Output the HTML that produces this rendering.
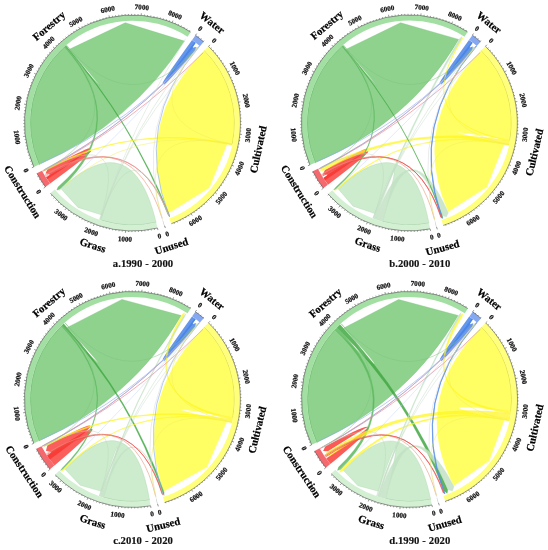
<!DOCTYPE html>
<html lang="en">
<head>
<meta charset="utf-8">
<title>Land use transfer chord diagrams</title>
<style>
html,body{margin:0;padding:0;background:#fff;}
body{width:548px;height:550px;overflow:hidden;}
svg{display:block;}
text{font-family:"Liberation Serif",serif;font-weight:bold;fill:#111;text-anchor:middle;}
.t{font-size:7.1px;fill:#111;stroke:#111;stroke-width:0.22px;}
.s{font-size:10.7px;fill:#000;stroke:#000;stroke-width:0.2px;}
.c{font-size:10.7px;fill:#111;word-spacing:0.3px;stroke:#111;stroke-width:0.15px;}
</style>
</head>
<body>
<svg width="548" height="550" viewBox="0 0 548 550">
<rect width="548" height="550" fill="#fff"/>
<g>
<path d="M156.12 222.37A102.15 102.15 0 0 1 101.22 220.26L101.99 215.09L77.93 207.43L61.05 188.66Q132.45 123 156.12 222.37 Z" fill="#CDEBCD" fill-opacity="1" stroke="#ABD5AB" stroke-width="0.35" stroke-opacity="1" stroke-linejoin="round"/><path d="M156.1 222.27A102.05 102.05 0 0 1 101.25 220.16" fill="none" stroke="#ABD5AB" stroke-width="0.7"/>
<path d="M204.43 50.52A102.15 102.15 0 0 1 232.44 143.89L227.22 143.66L209.27 187.8L168.79 212.94Q132.45 123 204.43 50.52 Z" fill="#FFFF64" fill-opacity="1" stroke="#FFFF64" stroke-width="0.35" stroke-opacity="1" stroke-linejoin="round"/><path d="M204.36 50.59A102.05 102.05 0 0 1 232.34 143.87" fill="none" stroke="#D6D640" stroke-width="0.7"/>
<path d="M39.13 164.55A102.15 102.15 0 0 1 64.36 46.85Q132.45 123 69.32 49.35L125.26 22.76L184.43 41.1Q132.45 123 39.13 164.55 Z" fill="#8ED28E" fill-opacity="1" stroke="#74C074" stroke-width="0.35" stroke-opacity="1" stroke-linejoin="round"/><path d="M39.22 164.51A102.05 102.05 0 0 1 64.43 46.92" fill="none" stroke="#74C074" stroke-width="0.7"/>
<path d="M50.12 183.47A102.15 102.15 0 0 1 46.11 177.58L49.91 175.08A97.6 97.6 0 0 1 49.29 174.08Q132.45 123 50.12 183.47 Z" fill="#FA322D" fill-opacity="0.78"/>
<path d="M47.23 179.31A102.15 102.15 0 0 1 46.11 177.58L50.53 174.19L45.5 173.6L47.48 168.95Q132.45 123 47.23 179.31 Z" fill="#FA322D" fill-opacity="0.78"/>
<path d="M192.06 40.05A102.15 102.15 0 0 1 195.76 42.84L192.63 46.93A97 97 0 0 1 193.26 47.43Q132.45 123 192.06 40.05 Z" fill="#4682E7" fill-opacity="0.84"/>
<path d="M194.74 42.04A102.15 102.15 0 0 1 195.76 42.84L192.34 47.97L195.95 46.65L195.31 50.44Q132.45 123 194.74 42.04 Z" fill="#4682E7" fill-opacity="0.84"/>
<path d="M65.1 46.2A102.15 102.15 0 0 1 65.84 45.56Q132.45 123 169 213.93L169.55 216.94L167.89 214.37Q132.45 123 65.1 46.2 Z" fill="#43A843" fill-opacity="0.85" stroke="#43A843" stroke-width="0.45" stroke-opacity="0.85" stroke-linejoin="round"/>
<path d="M64.36 46.85A102.15 102.15 0 0 1 65.1 46.2Q132.45 123 60.08 189.08L56.86 189.99L58.15 186.91Q132.45 123 64.36 46.85 Z" fill="#5CB85C" fill-opacity="0.85" stroke="#5CB85C" stroke-width="0.45" stroke-opacity="0.85" stroke-linejoin="round"/>
<path d="M232.44 143.89A102.15 102.15 0 0 1 232.26 144.76Q132.45 123 46.49 170.06L43.56 170.96L45.92 169.01Q132.45 123 232.44 143.89 Z" fill="#FFF61E" fill-opacity="0.72" stroke="#FFF61E" stroke-width="0.45" stroke-opacity="0.72" stroke-linejoin="round"/>
<path d="M232.07 144.9Q132.45 123 58.87 190.42" fill="none" stroke="#F3EE5A" stroke-width="0.62" stroke-opacity="0.8"/>
<path d="M42.39 170.89Q132.45 123 197.92 47.68" fill="none" stroke="#EC7B82" stroke-width="0.67" stroke-opacity="0.9"/>
<path d="M42.73 171.51Q132.45 123 203.27 52.68" fill="none" stroke="#EC7B82" stroke-width="0.67" stroke-opacity="0.9"/>
<path d="M45.76 176.75Q132.45 123 169.03 215.86" fill="none" stroke="#EC7B82" stroke-width="0.67" stroke-opacity="0.9"/>
<path d="M45.2 175.84Q132.45 123 169.51 215.66" fill="none" stroke="#EC7B82" stroke-width="0.67" stroke-opacity="0.9"/>
<path d="M44.75 175.08Q132.45 123 162.13 218.29" fill="none" stroke="#E9967A" stroke-width="0.67" stroke-opacity="0.9"/>
<path d="M199.37 46.02Q132.45 123 44.21 169.62" fill="none" stroke="#8CAEF0" stroke-width="0.67" stroke-opacity="0.9"/>
<path d="M199.5 46.14Q132.45 123 41.07 163.11" fill="none" stroke="#8CAEF0" stroke-width="0.67" stroke-opacity="0.9"/>
<path d="M199.64 46.25Q132.45 123 169.19 215.79" fill="none" stroke="#8CAEF0" stroke-width="0.72" stroke-opacity="0.9"/>
<path d="M199.64 46.25Q132.45 123 58.87 190.42" fill="none" stroke="#B9CDF5" stroke-width="0.52" stroke-opacity="0.8"/>
<path d="M100.59 219.9Q132.45 123 197.92 47.68" fill="none" stroke="#BFD9C2" stroke-width="0.5700000000000001" stroke-opacity="0.8"/>
<path d="M99.75 219.62Q132.45 123 203.02 52.43" fill="none" stroke="#C9DCCB" stroke-width="0.5700000000000001" stroke-opacity="0.8"/>
<path d="M100.08 219.73Q132.45 123 185.63 38.55" fill="none" stroke="#C9DCCB" stroke-width="0.5700000000000001" stroke-opacity="0.8"/>
<path d="M162.78 220.39Q132.45 123 198.19 47.91" fill="none" stroke="#CFCFCF" stroke-width="0.52" stroke-opacity="0.8"/>
<path d="M66.34 45.32Q132.45 123 197.13 47" fill="none" stroke="#7CC47C" stroke-width="0.52" stroke-opacity="0.9"/>
<path d="M66.61 45.09Q132.45 123 44.5 170.16" fill="none" stroke="#7CC47C" stroke-width="0.52" stroke-opacity="0.9"/>
<path d="M232.22 144.21Q132.45 123 197.66 47.45" fill="none" stroke="#F1EE55" stroke-width="0.52" stroke-opacity="0.9"/>
<path d="M232.15 144.56Q132.45 123 162.13 218.29" fill="none" stroke="#F1EE55" stroke-width="0.52" stroke-opacity="0.9"/>
<path d="M100.25 219.79Q132.45 123 168.86 215.92" fill="none" stroke="#B9DDBB" stroke-width="0.52" stroke-opacity="0.9"/>
<path d="M99.58 219.56Q132.45 123 44.58 170.31" fill="none" stroke="#B9DDBB" stroke-width="0.52" stroke-opacity="0.9"/>
<path d="M33.79 166.93A108 108 0 0 1 190.64 32.02L187.57 36.82A102.3 102.3 0 0 0 38.99 164.61Z" fill="#A3DFA3"/>
<path d="M195.47 35.29A108 108 0 0 1 203.73 41.86L199.97 46.15A102.3 102.3 0 0 0 192.15 39.92Z" fill="#86A8F0"/>
<path d="M208.55 46.37A108 108 0 0 1 171.33 223.76L169.28 218.44A102.3 102.3 0 0 0 204.53 50.41Z" fill="#FFFF7C"/>
<path d="M164.75 226.06A108 108 0 0 1 164.21 226.23L162.53 220.78A102.3 102.3 0 0 0 163.04 220.62Z" fill="#C8C8C8"/>
<path d="M157.48 228.06A108 108 0 0 1 50.45 193.28L54.78 189.57A102.3 102.3 0 0 0 156.16 222.51Z" fill="#D3F0D3"/>
<path d="M45.41 186.94A108 108 0 0 1 36.92 173.37L41.96 170.71A102.3 102.3 0 0 0 50 183.56Z" fill="#F4696E"/>
<path d="M33.79 166.93A108 108 0 0 1 190.64 32.02M33.79 166.93L31.87 167.78M32.53 163.99L31.51 164.41M31.36 161.02L30.33 161.4M30.28 158.01L29.24 158.37M29.29 154.97L28.24 155.3M28.39 151.91L27.33 152.2M27.58 148.82L26.51 149.08M26.86 145.71L25.79 145.94M26.24 142.57L25.16 142.77M25.71 139.42L24.62 139.59M25.27 136.26L23.18 136.52M24.92 133.08L23.83 133.19M24.67 129.9L23.57 129.97M24.51 126.71L23.41 126.75M24.45 123.51L23.35 123.52M24.48 120.32L23.38 120.29M24.61 117.13L23.51 117.07M24.83 113.94L23.73 113.85M25.15 110.76L24.05 110.64M25.55 107.59L24.47 107.44M26.06 104.44L23.99 104.08M26.65 101.3L25.57 101.08M27.34 98.18L26.27 97.93M28.12 95.08L27.06 94.8M28.99 92.01L27.94 91.69M29.95 88.96L28.91 88.62M31 85.95L29.97 85.57M32.15 82.96L31.12 82.56M33.37 80.01L32.36 79.58M34.69 77.1L33.69 76.64M36.09 74.23L34.21 73.28M37.57 71.4L36.61 70.88M39.14 68.62L38.19 68.07M40.79 65.88L39.86 65.3M42.52 63.2L41.6 62.59M44.33 60.56L43.43 59.93M46.21 57.98L45.33 57.32M48.17 55.46L47.31 54.77M50.21 53L49.37 52.29M52.31 50.6L51.5 49.86M54.49 48.26L52.97 46.81M56.73 45.99L55.96 45.2M59.04 43.78L58.3 42.97M61.42 41.64L60.7 40.82M63.86 39.58L63.16 38.73M66.35 37.59L65.68 36.72M68.91 35.67L68.26 34.78M71.52 33.83L70.9 32.92M74.18 32.07L73.59 31.14M76.9 30.38L76.33 29.44M79.66 28.78L78.64 26.95M82.47 27.26L81.96 26.28M85.33 25.82L84.85 24.83M88.22 24.47L87.77 23.47M91.15 23.21L90.73 22.19M94.12 22.03L93.73 21M97.13 20.94L96.77 19.9M100.16 19.94L99.83 18.89M103.22 19.03L102.92 17.97M106.31 18.21L106.04 17.14M109.42 17.48L108.97 15.43M112.55 16.85L112.35 15.77M115.7 16.31L115.53 15.22M118.86 15.86L118.72 14.77M122.04 15.5L121.93 14.41M125.22 15.24L125.15 14.14M128.41 15.08L128.37 13.98M131.6 15L131.6 13.9M134.8 15.03L134.82 13.93M137.99 15.14L138.05 14.04M141.18 15.35L141.35 13.26M144.36 15.66L144.48 14.57M147.53 16.06L147.68 14.97M150.68 16.55L150.87 15.47M153.82 17.14L154.04 16.06M156.95 17.81L157.2 16.74M160.05 18.59L160.33 17.52M163.12 19.45L163.44 18.39M166.17 20.4L166.52 19.35M169.19 21.44L169.57 20.41M172.18 22.57L172.95 20.62M175.13 23.79L175.57 22.78M178.05 25.1L178.51 24.1M180.92 26.49L181.42 25.51M183.76 27.96L184.28 27M186.54 29.52L187.1 28.57M189.29 31.16L189.86 30.23" fill="none" stroke="#444" stroke-width="0.55"/>
<text class="t" transform="translate(26.3 170.26) rotate(66)" y="2.41">0</text>
<text class="t" transform="translate(17.13 137.27) rotate(82.95)" y="2.41">1000</text>
<text class="t" transform="translate(17.98 103.03) rotate(-80.1)" y="2.41">2000</text>
<text class="t" transform="translate(28.77 70.53) rotate(-63.16)" y="2.41">3000</text>
<text class="t" transform="translate(48.57 42.58) rotate(-46.21)" y="2.41">4000</text>
<text class="t" transform="translate(75.65 21.63) rotate(-29.26)" y="2.41">5000</text>
<text class="t" transform="translate(107.67 9.47) rotate(-12.31)" y="2.41">6000</text>
<text class="t" transform="translate(141.84 7.18) rotate(4.64)" y="2.41">7000</text>
<text class="t" transform="translate(175.2 14.95) rotate(21.58)" y="2.41">8000</text>
<path d="M195.47 35.29A108 108 0 0 1 203.73 41.86M195.47 35.29L196.7 33.59M198.12 37.26L198.79 36.39M200.71 39.31L201.4 38.45M203.23 41.43L203.95 40.6" fill="none" stroke="#444" stroke-width="0.55"/>
<text class="t" transform="translate(200.26 28.64) rotate(35.7)" y="2.41">0</text>
<path d="M208.55 46.37A108 108 0 0 1 171.33 223.76M208.55 46.37L210.03 44.88M210.8 48.67L211.6 47.91M212.98 51.03L213.8 50.3M215.08 53.46L215.92 52.75M217.11 55.95L217.98 55.27M219.07 58.5L219.96 57.84M220.95 61.1L221.86 60.47M222.76 63.77L223.68 63.16M224.48 66.48L225.42 65.9M226.12 69.24L227.08 68.7M227.68 72.06L229.53 71.07M229.15 74.91L230.14 74.42M230.54 77.81L231.54 77.35M231.84 80.75L232.86 80.32M233.06 83.73L234.08 83.33M234.18 86.74L235.22 86.37M235.22 89.78L236.26 89.45M236.16 92.86L237.21 92.55M237.01 95.96L238.07 95.68M237.77 99.08L238.84 98.84M238.43 102.23L240.49 101.82M239 105.39L240.09 105.21M239.48 108.57L240.57 108.42M239.86 111.76L240.96 111.65M240.15 114.96L241.25 114.88M240.34 118.17L241.44 118.12M240.44 121.39L241.54 121.37M240.44 124.6L241.54 124.62M240.34 127.81L241.44 127.86M240.15 131.02L241.25 131.1M239.87 134.23L241.95 134.44M239.48 137.42L240.57 137.56M239.01 140.6L240.09 140.78M238.44 143.76L239.52 143.97M237.77 146.91L238.84 147.15M237.01 150.03L238.08 150.3M236.16 153.13L237.22 153.44M235.22 156.2L236.27 156.54M234.19 159.25L235.22 159.62M233.06 162.26L234.09 162.66M231.85 165.24L233.78 166.06M230.55 168.18L231.55 168.64M229.16 171.08L230.14 171.56M227.69 173.93L228.66 174.45M226.13 176.74L227.08 177.29M224.49 179.51L225.42 180.08M222.76 182.22L223.68 182.83M220.96 184.88L221.86 185.51M219.08 187.49L219.96 188.15M217.12 190.04L217.99 190.72M215.09 192.53L216.7 193.88M212.98 194.96L213.8 195.69M210.81 197.33L211.6 198.08M208.56 199.62L209.33 200.4M206.25 201.86L207 202.66M203.87 204.02L204.59 204.84M201.42 206.11L202.13 206.95M198.92 208.12L199.6 208.99M196.36 210.06L197.01 210.95M193.74 211.93L194.36 212.83M191.06 213.71L192.2 215.48M188.34 215.42L188.91 216.36M185.56 217.04L186.1 218M182.74 218.58L183.25 219.55M179.87 220.03L180.36 221.02M176.96 221.4L177.42 222.4M174.01 222.68L174.44 223.7" fill="none" stroke="#444" stroke-width="0.55"/>
<text class="t" transform="translate(214.33 40.55) rotate(44.8)" y="2.41">0</text>
<text class="t" transform="translate(234.91 68.19) rotate(61.86)" y="2.41">1000</text>
<text class="t" transform="translate(246.48 100.65) rotate(78.91)" y="2.41">2000</text>
<text class="t" transform="translate(248.02 135.08) rotate(-84.03)" y="2.41">3000</text>
<text class="t" transform="translate(239.4 168.44) rotate(-66.98)" y="2.41">4000</text>
<text class="t" transform="translate(221.36 197.81) rotate(-49.92)" y="2.41">5000</text>
<text class="t" transform="translate(195.51 220.6) rotate(-32.87)" y="2.41">6000</text>
<path d="M164.75 226.06A108 108 0 0 1 164.21 226.23M164.75 226.06L165.37 228.06" fill="none" stroke="#444" stroke-width="0.55"/>
<text class="t" transform="translate(167.2 233.88) rotate(-17.4)" y="2.41">0</text>
<path d="M157.48 228.06A108 108 0 0 1 50.45 193.28M157.48 228.06L157.97 230.1M154.34 228.76L154.56 229.84M151.17 229.36L151.37 230.45M148 229.88L148.15 230.96M144.8 230.29L144.93 231.38M141.6 230.61L141.69 231.71M138.39 230.84L138.45 231.93M135.17 230.97L135.2 232.07M131.95 231L131.95 232.1M128.74 230.94L128.7 232.04M125.52 230.78L125.38 232.87M122.31 230.52L122.21 231.62M119.11 230.17L118.97 231.26M115.92 229.73L115.75 230.81M112.75 229.19L112.55 230.27M109.59 228.55L109.36 229.63M106.46 227.83L106.19 228.89M103.34 227L103.05 228.06M100.26 226.09L99.93 227.14M97.2 225.09L96.84 226.12M94.17 223.99L93.43 225.95M91.18 222.8L90.76 223.82M88.22 221.53L87.77 222.53M85.31 220.17L84.83 221.16M82.43 218.72L81.92 219.69M79.6 217.19L79.06 218.14M76.82 215.57L76.25 216.51M74.08 213.87L73.49 214.79M71.4 212.09L70.78 213M68.77 210.23L68.12 211.12M66.2 208.29L64.91 209.95M63.69 206.28L62.99 207.13M61.24 204.19L60.51 205.02M58.85 202.04L58.1 202.84M56.52 199.81L55.75 200.59M54.27 197.51L53.47 198.27M52.08 195.15L51.26 195.88" fill="none" stroke="#444" stroke-width="0.55"/>
<text class="t" transform="translate(159.38 236.04) rotate(-13.4)" y="2.41">0</text>
<text class="t" transform="translate(124.99 238.96) rotate(3.68)" y="2.41">1000</text>
<text class="t" transform="translate(91.27 231.66) rotate(20.76)" y="2.41">2000</text>
<text class="t" transform="translate(61.17 214.77) rotate(37.84)" y="2.41">3000</text>
<path d="M45.41 186.94A108 108 0 0 1 36.92 173.37M45.41 186.94L43.72 188.18M43.54 184.32L42.64 184.94M41.76 181.64L40.83 182.24M40.05 178.91L39.11 179.48M38.43 176.14L37.47 176.68" fill="none" stroke="#444" stroke-width="0.55"/>
<text class="t" transform="translate(38.8 191.79) rotate(53.7)" y="2.41">0</text>
<text class="s" transform="translate(48.79 25.73) rotate(-40.7)" y="3.74">Forestry</text>
<text class="s" transform="translate(212.32 22.59) rotate(38.5)" y="3.74">Water</text>
<text class="s" transform="translate(258.02 149.35) rotate(-78.15)" y="3.74">Cultivated</text>
<text class="s" transform="translate(171.35 246) rotate(-17.55)" y="3.74">Unused</text>
<text class="s" transform="translate(92.8 245.02) rotate(18)" y="3.74">Grass</text>
<text class="s" transform="translate(22.77 191.67) rotate(57.95)" y="3.74">Construction</text>
<text class="c" x="143" y="266.9">a.1990 - 2000</text>
</g>
<g>
<path d="M429.02 223.14A102.15 102.15 0 0 1 382.57 221.48Q409.35 122.9 374.9 213.58L353.08 206.17L338.06 188.68Q409.35 122.9 429.02 223.14 Z" fill="#CDEBCD" fill-opacity="1" stroke="#ABD5AB" stroke-width="0.35" stroke-opacity="1" stroke-linejoin="round"/><path d="M429 223.04A102.05 102.05 0 0 1 382.59 221.38" fill="none" stroke="#ABD5AB" stroke-width="0.7"/>
<path d="M481.33 50.42A102.15 102.15 0 0 1 510.04 140.11Q409.35 122.9 503.98 144.23L486.84 186.89L448.18 211.79Q409.35 122.9 481.33 50.42 Z" fill="#FFFF64" fill-opacity="1" stroke="#FFFF64" stroke-width="0.35" stroke-opacity="1" stroke-linejoin="round"/><path d="M481.26 50.49A102.05 102.05 0 0 1 509.94 140.09" fill="none" stroke="#D6D640" stroke-width="0.7"/>
<path d="M315.25 162.65A102.15 102.15 0 0 1 341.8 46.28Q409.35 122.9 346.22 49.25L400.59 22.78L458.73 39.41Q409.35 122.9 315.25 162.65 Z" fill="#8ED28E" fill-opacity="1" stroke="#74C074" stroke-width="0.35" stroke-opacity="1" stroke-linejoin="round"/><path d="M315.34 162.61A102.05 102.05 0 0 1 341.86 46.35" fill="none" stroke="#74C074" stroke-width="0.7"/>
<path d="M327.98 184.66A102.15 102.15 0 0 1 323.39 178.09L327.17 175.56A97.6 97.6 0 0 1 326.89 175.11Q409.35 122.9 327.98 184.66 Z" fill="#FA322D" fill-opacity="0.78"/>
<path d="M324.95 180.44A102.15 102.15 0 0 1 323.39 178.09L327.79 174.66L322.89 174.34L324.94 169.88Q409.35 122.9 324.95 180.44 Z" fill="#FA322D" fill-opacity="0.78"/>
<path d="M468.96 39.95A102.15 102.15 0 0 1 472.66 42.74L469.53 46.83A97 97 0 0 1 470.16 47.33Q409.35 122.9 468.96 39.95 Z" fill="#4682E7" fill-opacity="0.84"/>
<path d="M471.64 41.94A102.15 102.15 0 0 1 472.66 42.74L469.24 47.87L472.85 46.55L472.21 50.34Q409.35 122.9 471.64 41.94 Z" fill="#4682E7" fill-opacity="0.84"/>
<path d="M382.57 221.48A102.15 102.15 0 0 1 375.42 219.25Q409.35 122.9 448.27 212.84L446.28 216.9L442.06 215.28Q409.35 122.9 382.57 221.48 Z" fill="#C2E2C4" fill-opacity="0.85" stroke="#C2E2C4" stroke-width="0.45" stroke-opacity="0.85" stroke-linejoin="round"/>
<path d="M375.42 219.25A102.15 102.15 0 0 1 373.41 218.52Q409.35 122.9 459.53 38.72L461.9 36.65L461.14 39.7Q409.35 122.9 375.42 219.25 Z" fill="#C2E2C4" fill-opacity="0.85" stroke="#C2E2C4" stroke-width="0.45" stroke-opacity="0.85" stroke-linejoin="round"/>
<path d="M509.92 140.81A102.15 102.15 0 0 1 509.23 144.31Q409.35 122.9 323.64 170.41L320.13 170.24L321.95 167.24Q409.35 122.9 509.92 140.81 Z" fill="#FFF61E" fill-opacity="0.72" stroke="#FFF61E" stroke-width="0.45" stroke-opacity="0.72" stroke-linejoin="round"/>
<path d="M509.23 144.31A102.15 102.15 0 0 1 509.04 145.18Q409.35 122.9 337.21 189.23L334.65 190.87L336.52 188.47Q409.35 122.9 509.23 144.31 Z" fill="#FFF61E" fill-opacity="0.72" stroke="#FFF61E" stroke-width="0.45" stroke-opacity="0.72" stroke-linejoin="round"/>
<path d="M510.04 140.11A102.15 102.15 0 0 1 509.92 140.81Q409.35 122.9 461.28 39.79L463.17 37.43L461.86 40.16Q409.35 122.9 510.04 140.11 Z" fill="#FFF61E" fill-opacity="0.72" stroke="#FFF61E" stroke-width="0.45" stroke-opacity="0.72" stroke-linejoin="round"/>
<path d="M342.27 45.86A102.15 102.15 0 0 1 342.74 45.46Q409.35 122.9 442.06 215.28L442.77 218.21L441.5 215.48Q409.35 122.9 342.27 45.86 Z" fill="#43A843" fill-opacity="0.85" stroke="#43A843" stroke-width="0.45" stroke-opacity="0.85" stroke-linejoin="round"/>
<path d="M341.8 46.28A102.15 102.15 0 0 1 342.27 45.86Q409.35 122.9 336.41 188.35L333.76 189.89L335.61 187.45Q409.35 122.9 341.8 46.28 Z" fill="#5CB85C" fill-opacity="0.85" stroke="#5CB85C" stroke-width="0.45" stroke-opacity="0.85" stroke-linejoin="round"/>
<path d="M476.3 45.75A102.15 102.15 0 0 1 476.7 46.1Q409.35 122.9 441.5 215.48L442.19 218.41L440.93 215.67Q409.35 122.9 476.3 45.75 Z" fill="#5B8FE8" fill-opacity="0.85" stroke="#5B8FE8" stroke-width="0.8" stroke-opacity="0.85" stroke-linejoin="round"/>
<path d="M322.38 176.19Q409.35 122.9 441.35 217.43" fill="none" stroke="#EE4B4B" stroke-width="0.82" stroke-opacity="0.9"/>
<path d="M321.83 175.28Q409.35 122.9 441.02 217.54" fill="none" stroke="#EE4B4B" stroke-width="0.72" stroke-opacity="0.9"/>
<path d="M321.37 174.52Q409.35 122.9 434.51 219.48" fill="none" stroke="#E9967A" stroke-width="0.67" stroke-opacity="0.9"/>
<path d="M318.39 169.05Q409.35 122.9 474.82 47.58" fill="none" stroke="#EC7B82" stroke-width="0.67" stroke-opacity="0.9"/>
<path d="M318.55 169.37Q409.35 122.9 480.17 52.58" fill="none" stroke="#EC7B82" stroke-width="0.67" stroke-opacity="0.9"/>
<path d="M476.27 45.92Q409.35 122.9 320.27 167.9" fill="none" stroke="#8CAEF0" stroke-width="0.67" stroke-opacity="0.9"/>
<path d="M476.4 46.04Q409.35 122.9 317.21 161.25" fill="none" stroke="#8CAEF0" stroke-width="0.67" stroke-opacity="0.9"/>
<path d="M476.54 46.15Q409.35 122.9 335.18 189.68" fill="none" stroke="#B9CDF5" stroke-width="0.52" stroke-opacity="0.8"/>
<path d="M373.3 218.32Q409.35 122.9 474.82 47.58" fill="none" stroke="#BFD9C2" stroke-width="0.5700000000000001" stroke-opacity="0.8"/>
<path d="M373.13 218.25Q409.35 122.9 479.92 52.33" fill="none" stroke="#C9DCCB" stroke-width="0.5700000000000001" stroke-opacity="0.8"/>
<path d="M435.06 221.61Q409.35 122.9 475.09 47.81" fill="none" stroke="#CFCFCF" stroke-width="0.52" stroke-opacity="0.8"/>
<path d="M343.24 45.22Q409.35 122.9 474.03 46.9" fill="none" stroke="#7CC47C" stroke-width="0.52" stroke-opacity="0.9"/>
<path d="M343.51 44.99Q409.35 122.9 320.59 168.52" fill="none" stroke="#7CC47C" stroke-width="0.52" stroke-opacity="0.9"/>
<path d="M508.97 144.8Q409.35 122.9 474.56 47.35" fill="none" stroke="#F1EE55" stroke-width="0.52" stroke-opacity="0.9"/>
<path d="M508.89 145.15Q409.35 122.9 434.51 219.48" fill="none" stroke="#F1EE55" stroke-width="0.52" stroke-opacity="0.9"/>
<path d="M372.96 218.19Q409.35 122.9 320.51 168.36" fill="none" stroke="#B9DDBB" stroke-width="0.52" stroke-opacity="0.9"/>
<path d="M309.86 164.93A108 108 0 0 1 467.54 31.92L464.47 36.72A102.3 102.3 0 0 0 315.11 162.71Z" fill="#A3DFA3"/>
<path d="M472.37 35.19A108 108 0 0 1 480.63 41.76L476.87 46.05A102.3 102.3 0 0 0 469.05 39.82Z" fill="#86A8F0"/>
<path d="M485.45 46.27A108 108 0 0 1 443.26 225.44L441.47 220.03A102.3 102.3 0 0 0 481.43 50.31Z" fill="#FFFF7C"/>
<path d="M436.76 227.36A108 108 0 0 1 436.21 227.51L434.79 221.99A102.3 102.3 0 0 0 435.31 221.85Z" fill="#C8C8C8"/>
<path d="M430.14 228.88A108 108 0 0 1 327.97 193.9L332.26 190.15A102.3 102.3 0 0 0 429.04 223.29Z" fill="#D3F0D3"/>
<path d="M323.32 188.2A108 108 0 0 1 312.82 171.34L317.92 168.79A102.3 102.3 0 0 0 327.86 184.75Z" fill="#F4696E"/>
<path d="M309.86 164.93A108 108 0 0 1 467.54 31.92M309.86 164.93L307.93 165.74M308.66 161.96L307.63 162.35M307.54 158.95L306.51 159.32M306.52 155.92L305.47 156.25M305.59 152.85L304.53 153.16M304.74 149.76L303.68 150.03M303.99 146.64L302.92 146.89M303.33 143.51L302.25 143.72M302.77 140.35L301.68 140.53M302.3 137.18L301.21 137.33M301.92 134L299.83 134.22M301.64 130.81L300.54 130.89M301.45 127.61L300.35 127.66M301.36 124.41L300.26 124.42M301.36 121.2L300.26 121.19M301.46 118L300.36 117.95M301.65 114.8L300.56 114.72M301.94 111.61L300.85 111.5M302.32 108.43L301.23 108.28M302.8 105.26L301.71 105.08M303.37 102.11L301.31 101.7M304.03 98.97L302.96 98.73M304.79 95.86L303.73 95.58M305.64 92.77L304.58 92.46M306.58 89.71L305.53 89.37M307.61 86.67L306.57 86.3M308.73 83.67L307.7 83.27M309.94 80.7L308.92 80.27M311.23 77.77L310.23 77.31M312.61 74.88L311.63 74.39M314.08 72.03L312.23 71.04M315.63 69.23L314.68 68.68M317.26 66.47L316.33 65.9M318.98 63.76L318.06 63.16M320.77 61.11L319.87 60.48M322.65 58.51L321.76 57.85M324.59 55.96L323.73 55.28M326.62 53.48L325.77 52.77M328.71 51.06L327.89 50.32M330.88 48.69L330.08 47.94M333.12 46.4L331.63 44.91M335.42 44.17L334.67 43.37M337.79 42.01L337.06 41.19M340.22 39.93L339.51 39.08M342.71 37.91L342.03 37.05M345.26 35.97L344.61 35.09M347.87 34.11L347.24 33.2M350.53 32.32L349.93 31.4M353.24 30.62L352.67 29.68M356 28.99L355.46 28.04M358.81 27.45L357.83 25.6M361.67 26L361.18 25.01M364.56 24.62L364.11 23.62M367.5 23.34L367.07 22.32M370.47 22.14L370.07 21.11M373.48 21.03L373.11 19.99M376.51 20.01L376.18 18.96M379.58 19.08L379.28 18.03M382.67 18.25L382.4 17.18M385.79 17.5L385.55 16.43M388.93 16.85L388.53 14.79M392.08 16.29L391.91 15.2M395.25 15.82L395.11 14.73M398.44 15.45L398.32 14.36M401.63 15.18L401.55 14.08M404.83 14.99L404.78 13.9M408.03 14.91L408.02 13.81M411.23 14.92L411.25 13.82M414.44 15.02L414.49 13.92M417.64 15.22L417.72 14.12M420.83 15.51L421.05 13.42M424.01 15.9L424.16 14.81M427.18 16.38L427.36 15.3M430.33 16.96L430.54 15.88M433.46 17.63L433.71 16.55M436.57 18.39L436.85 17.32M439.66 19.24L439.97 18.19M442.72 20.19L443.06 19.14M445.76 21.22L446.13 20.19M448.76 22.35L449.16 21.32M451.72 23.56L452.55 21.63M454.65 24.86L455.11 23.86M457.54 26.25L458.03 25.26M460.39 27.72L460.91 26.75M463.19 29.28L463.74 28.32M465.94 30.91L466.52 29.98" fill="none" stroke="#444" stroke-width="0.55"/>
<text class="t" transform="translate(302.31 168.12) rotate(67.1)" y="2.41">0</text>
<text class="t" transform="translate(293.77 134.84) rotate(84.1)" y="2.41">1000</text>
<text class="t" transform="translate(295.32 100.53) rotate(-78.9)" y="2.41">2000</text>
<text class="t" transform="translate(306.85 68.17) rotate(-61.9)" y="2.41">3000</text>
<text class="t" transform="translate(327.33 40.59) rotate(-44.9)" y="2.41">4000</text>
<text class="t" transform="translate(354.98 20.21) rotate(-27.9)" y="2.41">5000</text>
<text class="t" transform="translate(387.38 8.8) rotate(-10.9)" y="2.41">6000</text>
<text class="t" transform="translate(421.7 7.36) rotate(6.1)" y="2.41">7000</text>
<text class="t" transform="translate(454.94 16.02) rotate(23.1)" y="2.41">8000</text>
<path d="M472.37 35.19A108 108 0 0 1 480.63 41.76M472.37 35.19L473.6 33.49M475.02 37.16L475.69 36.29M477.61 39.21L478.3 38.35M480.13 41.33L480.85 40.5" fill="none" stroke="#444" stroke-width="0.55"/>
<text class="t" transform="translate(477.16 28.54) rotate(35.7)" y="2.41">0</text>
<path d="M485.45 46.27A108 108 0 0 1 443.26 225.44M485.45 46.27L486.93 44.78M487.69 48.56L488.49 47.8M489.86 50.91L490.68 50.18M491.96 53.33L492.8 52.63M493.99 55.82L494.85 55.13M495.94 58.36L496.82 57.7M497.82 60.95L498.72 60.32M499.62 63.61L500.54 63M501.34 66.31L502.27 65.73M502.97 69.06L503.93 68.51M504.53 71.86L506.38 70.87M506 74.71L506.99 74.22M507.39 77.6L508.39 77.14M508.69 80.53L509.7 80.1M509.9 83.49L510.93 83.09M511.03 86.49L512.06 86.12M512.06 89.53L513.11 89.19M513.01 92.59L514.06 92.28M513.86 95.68L514.93 95.4M514.62 98.79L515.7 98.54M515.29 101.92L517.35 101.51M515.87 105.07L516.95 104.89M516.35 108.24L517.44 108.09M516.74 111.42L517.83 111.31M517.03 114.61L518.13 114.53M517.23 117.81L518.33 117.76M517.33 121.02L518.43 121M517.34 124.22L518.44 124.23M517.26 127.42L518.35 127.47M517.07 130.62L518.17 130.7M516.8 133.81L518.89 134.03M516.43 137L517.52 137.14M515.96 140.17L517.05 140.34M515.4 143.32L516.48 143.53M514.75 146.46L515.82 146.7M514 149.58L515.07 149.85M513.17 152.67L514.22 152.97M512.24 155.74L513.29 156.07M511.22 158.77L512.26 159.14M510.11 161.78L511.14 162.18M508.91 164.75L510.85 165.57M507.63 167.69L508.63 168.14M506.25 170.58L507.24 171.07M504.8 173.44L505.77 173.95M503.26 176.25L504.21 176.79M501.63 179.01L502.57 179.58M499.93 181.72L500.85 182.32M498.14 184.38L499.05 185.01M496.28 186.99L497.16 187.64M494.34 189.54L495.2 190.22M492.32 192.03L493.94 193.38M490.24 194.46L491.06 195.19M488.08 196.83L488.88 197.58M485.85 199.13L486.63 199.91M483.56 201.37L484.31 202.17M481.19 203.54L481.93 204.36M478.77 205.63L479.48 206.48M476.29 207.66L476.97 208.52M473.74 209.6L474.4 210.49M471.14 211.48L471.77 212.38M468.49 213.27L469.64 215.03M465.78 214.99L466.35 215.92M463.02 216.62L463.57 217.57M460.22 218.17L460.74 219.14M457.37 219.64L457.86 220.62M454.48 221.02L454.94 222.02M451.55 222.31L451.98 223.33M448.58 223.52L448.98 224.55M445.58 224.64L445.95 225.68" fill="none" stroke="#444" stroke-width="0.55"/>
<text class="t" transform="translate(491.23 40.45) rotate(44.8)" y="2.41">0</text>
<text class="t" transform="translate(511.76 67.99) rotate(61.8)" y="2.41">1000</text>
<text class="t" transform="translate(523.34 100.33) rotate(78.8)" y="2.41">2000</text>
<text class="t" transform="translate(524.96 134.64) rotate(-84.2)" y="2.41">3000</text>
<text class="t" transform="translate(516.47 167.93) rotate(-67.2)" y="2.41">4000</text>
<text class="t" transform="translate(498.62 197.28) rotate(-50.2)" y="2.41">5000</text>
<text class="t" transform="translate(472.98 220.13) rotate(-33.2)" y="2.41">6000</text>
<path d="M436.76 227.36A108 108 0 0 1 436.21 227.51M436.76 227.36L437.29 229.4" fill="none" stroke="#444" stroke-width="0.55"/>
<text class="t" transform="translate(438.84 235.3) rotate(-14.7)" y="2.41">0</text>
<path d="M430.14 228.88A108 108 0 0 1 327.97 193.9M430.14 228.88L430.55 230.94M426.99 229.45L427.17 230.54M423.82 229.93L423.97 231.02M420.64 230.31L420.75 231.4M417.45 230.6L417.53 231.69M414.25 230.79L414.3 231.89M411.05 230.89L411.06 231.99M407.84 230.89L407.83 231.99M404.64 230.8L404.59 231.9M401.44 230.61L401.36 231.71M398.25 230.33L398.03 232.42M395.07 229.95L394.92 231.04M391.9 229.48L391.72 230.57M388.74 228.92L388.53 230M385.61 228.26L385.36 229.33M382.49 227.51L382.22 228.57M379.4 226.66L379.09 227.72M376.33 225.73L376 226.78M373.3 224.71L372.93 225.74M370.29 223.59L369.9 224.62M367.32 222.39L366.51 224.32M364.39 221.1L363.93 222.1M361.5 219.72L361.01 220.71M358.65 218.26L358.13 219.23M355.84 216.71L355.3 217.67M353.08 215.08L352.51 216.02M350.37 213.37L349.77 214.3M347.71 211.58L347.09 212.49M345.11 209.72L344.45 210.6M342.56 207.77L341.88 208.64M340.07 205.75L338.73 207.36M337.65 203.66L336.92 204.48M335.28 201.5L334.53 202.3M332.98 199.27L332.2 200.05M330.75 196.97L329.95 197.72M328.59 194.6L327.77 195.33" fill="none" stroke="#444" stroke-width="0.55"/>
<text class="t" transform="translate(431.72 236.93) rotate(-11.1)" y="2.41">0</text>
<text class="t" transform="translate(397.41 238.48) rotate(5.9)" y="2.41">1000</text>
<text class="t" transform="translate(364.13 229.94) rotate(22.9)" y="2.41">2000</text>
<text class="t" transform="translate(334.81 212.04) rotate(39.9)" y="2.41">3000</text>
<path d="M323.32 188.2A108 108 0 0 1 312.82 171.34M323.32 188.2L321.65 189.47M321.43 185.62L320.53 186.25M319.6 182.98L318.69 183.59M317.86 180.29L316.93 180.88M316.2 177.55L315.25 178.11M314.62 174.76L313.65 175.29M313.12 171.93L312.14 172.43" fill="none" stroke="#444" stroke-width="0.55"/>
<text class="t" transform="translate(316.79 193.15) rotate(52.8)" y="2.41">0</text>
<text class="s" transform="translate(326.62 24.83) rotate(-40.15)" y="3.74">Forestry</text>
<text class="s" transform="translate(489.22 22.49) rotate(38.5)" y="3.74">Water</text>
<text class="s" transform="translate(534.23 152.31) rotate(-76.75)" y="3.74">Cultivated</text>
<text class="s" transform="translate(442.41 247.59) rotate(-14.85)" y="3.74">Unused</text>
<text class="s" transform="translate(367.79 244.28) rotate(18.9)" y="3.74">Grass</text>
<text class="s" transform="translate(299.52 191.33) rotate(58.08)" y="3.74">Construction</text>
<text class="c" x="419.8" y="266.9">b.2000 - 2010</text>
</g>
<g>
<path d="M149.61 500.09A102.15 102.15 0 0 1 103.39 497.34Q132.4 399.4 101.46 491.33L80.19 485.27L65.02 469.18Q132.4 399.4 149.61 500.09 Z" fill="#CDEBCD" fill-opacity="1" stroke="#ABD5AB" stroke-width="0.35" stroke-opacity="1" stroke-linejoin="round"/><path d="M149.59 499.99A102.05 102.05 0 0 1 103.42 497.25" fill="none" stroke="#ABD5AB" stroke-width="0.7"/>
<path d="M204.38 326.92A102.15 102.15 0 0 1 232.9 417.66Q132.4 399.4 226.84 421.55L206.85 466.91L163.66 491.22Q132.4 399.4 204.38 326.92 Z" fill="#FFFF64" fill-opacity="1" stroke="#FFFF64" stroke-width="0.35" stroke-opacity="1" stroke-linejoin="round"/><path d="M204.31 326.99A102.05 102.05 0 0 1 232.81 417.65" fill="none" stroke="#D6D640" stroke-width="0.7"/>
<path d="M39.08 440.95A102.15 102.15 0 0 1 61.31 326.04Q132.4 399.4 67.37 327.43L121.98 299.44L181.19 315.57Q132.4 399.4 39.08 440.95 Z" fill="#8ED28E" fill-opacity="1" stroke="#74C074" stroke-width="0.35" stroke-opacity="1" stroke-linejoin="round"/><path d="M39.17 440.91A102.05 102.05 0 0 1 61.38 326.12" fill="none" stroke="#74C074" stroke-width="0.7"/>
<path d="M54.49 465.47A102.15 102.15 0 0 1 47.12 455.63L50.87 453.06A97.6 97.6 0 0 1 50.69 452.79Q132.4 399.4 54.49 465.47 Z" fill="#FA322D" fill-opacity="0.78"/>
<path d="M49.78 459.47A102.15 102.15 0 0 1 47.12 455.63L51.48 452.15L45.94 450.84L47.43 445.35Q132.4 399.4 49.78 459.47 Z" fill="#FA322D" fill-opacity="0.78"/>
<path d="M192.01 316.45A102.15 102.15 0 0 1 195.71 319.24L192.58 323.33A97 97 0 0 1 193.21 323.83Q132.4 399.4 192.01 316.45 Z" fill="#4682E7" fill-opacity="0.84"/>
<path d="M194.69 318.44A102.15 102.15 0 0 1 195.71 319.24L192.29 324.37L195.9 323.05L195.26 326.84Q132.4 399.4 194.69 318.44 Z" fill="#4682E7" fill-opacity="0.84"/>
<path d="M62.21 325.18A102.15 102.15 0 0 1 63.65 323.85Q132.4 399.4 163.98 492.17L164.03 495.32L162.2 492.76Q132.4 399.4 62.21 325.18 Z" fill="#43A843" fill-opacity="0.85" stroke="#43A843" stroke-width="0.45" stroke-opacity="0.85" stroke-linejoin="round"/>
<path d="M61.31 326.04A102.15 102.15 0 0 1 62.21 325.18Q132.4 399.4 63.22 468.82L60.67 470.51L62.38 467.97Q132.4 399.4 61.31 326.04 Z" fill="#5CB85C" fill-opacity="0.85" stroke="#5CB85C" stroke-width="0.45" stroke-opacity="0.85" stroke-linejoin="round"/>
<path d="M232.9 417.66A102.15 102.15 0 0 1 232.46 419.94Q132.4 399.4 181.99 314.87L184.49 312.87L183.9 316.02Q132.4 399.4 232.9 417.66 Z" fill="#FFF61E" fill-opacity="0.72" stroke="#FFF61E" stroke-width="0.45" stroke-opacity="0.72" stroke-linejoin="round"/>
<path d="M232.46 419.94A102.15 102.15 0 0 1 232.13 421.51Q132.4 399.4 46.11 445.86L43.1 446.58L45.39 444.5Q132.4 399.4 232.46 419.94 Z" fill="#FFF61E" fill-opacity="0.72" stroke="#FFF61E" stroke-width="0.45" stroke-opacity="0.72" stroke-linejoin="round"/>
<path d="M232.13 421.51A102.15 102.15 0 0 1 231.89 422.55Q132.4 399.4 64.08 469.66L61.61 471.44L63.35 468.94Q132.4 399.4 232.13 421.51 Z" fill="#FFF61E" fill-opacity="0.72" stroke="#FFF61E" stroke-width="0.45" stroke-opacity="0.72" stroke-linejoin="round"/>
<path d="M103.39 497.34A102.15 102.15 0 0 1 101.34 496.71Q132.4 399.4 162.36 492.71L163.11 495.62L162.03 492.81Q132.4 399.4 103.39 497.34 Z" fill="#C2E2C4" fill-opacity="0.85" stroke="#C2E2C4" stroke-width="0.45" stroke-opacity="0.85" stroke-linejoin="round"/>
<path d="M101.34 496.71A102.15 102.15 0 0 1 99.99 496.27Q132.4 399.4 183.9 316.02L185.92 313.75L184.77 316.56Q132.4 399.4 101.34 496.71 Z" fill="#C2E2C4" fill-opacity="0.85" stroke="#C2E2C4" stroke-width="0.45" stroke-opacity="0.85" stroke-linejoin="round"/>
<path d="M47.25 455.55Q132.4 399.4 162.58 494.53" fill="none" stroke="#EE4B4B" stroke-width="0.72" stroke-opacity="0.9"/>
<path d="M46.66 454.65Q132.4 399.4 162.33 494.61" fill="none" stroke="#EE4B4B" stroke-width="0.62" stroke-opacity="0.9"/>
<path d="M46.18 453.9Q132.4 399.4 155.7 496.44" fill="none" stroke="#E9967A" stroke-width="0.67" stroke-opacity="0.9"/>
<path d="M41.8 446.26Q132.4 399.4 197.87 324.08" fill="none" stroke="#EC7B82" stroke-width="0.67" stroke-opacity="0.9"/>
<path d="M41.92 446.5Q132.4 399.4 203.22 329.08" fill="none" stroke="#EC7B82" stroke-width="0.67" stroke-opacity="0.9"/>
<path d="M199.32 322.42Q132.4 399.4 43.8 445.33" fill="none" stroke="#8CAEF0" stroke-width="0.67" stroke-opacity="0.9"/>
<path d="M199.45 322.54Q132.4 399.4 41.02 439.51" fill="none" stroke="#8CAEF0" stroke-width="0.67" stroke-opacity="0.9"/>
<path d="M199.59 322.65Q132.4 399.4 162.74 494.48" fill="none" stroke="#8CAEF0" stroke-width="0.72" stroke-opacity="0.9"/>
<path d="M199.59 322.65Q132.4 399.4 61.83 469.97" fill="none" stroke="#B9CDF5" stroke-width="0.52" stroke-opacity="0.8"/>
<path d="M99.7 496.02Q132.4 399.4 197.87 324.08" fill="none" stroke="#BFD9C2" stroke-width="0.5700000000000001" stroke-opacity="0.8"/>
<path d="M99.36 495.9Q132.4 399.4 202.97 328.83" fill="none" stroke="#C9DCCB" stroke-width="0.5700000000000001" stroke-opacity="0.8"/>
<path d="M156.21 498.58Q132.4 399.4 198.14 324.31" fill="none" stroke="#CFCFCF" stroke-width="0.52" stroke-opacity="0.8"/>
<path d="M64.95 322.89Q132.4 399.4 197.08 323.4" fill="none" stroke="#7CC47C" stroke-width="0.52" stroke-opacity="0.9"/>
<path d="M65.08 322.77Q132.4 399.4 44.28 446.25" fill="none" stroke="#7CC47C" stroke-width="0.52" stroke-opacity="0.9"/>
<path d="M231.83 422.17Q132.4 399.4 197.61 323.85" fill="none" stroke="#F1EE55" stroke-width="0.52" stroke-opacity="0.9"/>
<path d="M231.75 422.52Q132.4 399.4 155.7 496.44" fill="none" stroke="#F1EE55" stroke-width="0.52" stroke-opacity="0.9"/>
<path d="M99.36 495.9Q132.4 399.4 44.12 445.95" fill="none" stroke="#B9DDBB" stroke-width="0.52" stroke-opacity="0.9"/>
<path d="M33.74 443.33A108 108 0 0 1 190.59 308.42L187.52 313.22A102.3 102.3 0 0 0 38.94 441.01Z" fill="#A3DFA3"/>
<path d="M195.42 311.69A108 108 0 0 1 203.68 318.26L199.92 322.55A102.3 102.3 0 0 0 192.1 316.32Z" fill="#86A8F0"/>
<path d="M208.5 322.77A108 108 0 0 1 164.61 502.49L162.91 497.05A102.3 102.3 0 0 0 204.48 326.81Z" fill="#FFFF7C"/>
<path d="M157.8 504.37A108 108 0 0 1 157.25 504.5L155.93 498.96A102.3 102.3 0 0 0 156.46 498.83Z" fill="#C8C8C8"/>
<path d="M150.6 505.86A108 108 0 0 1 55.11 474.83L59.18 470.85A102.3 102.3 0 0 0 149.64 500.24Z" fill="#D3F0D3"/>
<path d="M50.03 469.25A108 108 0 0 1 36.39 448.85L41.45 446.24A102.3 102.3 0 0 0 54.38 465.57Z" fill="#F4696E"/>
<path d="M33.74 443.33A108 108 0 0 1 190.59 308.42M33.74 443.33L31.82 444.18M32.48 440.38L31.46 440.8M31.31 437.4L30.28 437.79M30.22 434.38L29.18 434.74M29.23 431.34L28.18 431.66M28.33 428.26L27.27 428.56M27.52 425.16L26.45 425.42M26.8 422.04L25.72 422.27M26.17 418.9L25.09 419.09M25.64 415.74L24.56 415.9M25.21 412.56L23.12 412.82M24.86 409.38L23.77 409.48M24.61 406.18L23.52 406.25M24.46 402.98L23.36 403.02M24.4 399.78L23.3 399.78M24.44 396.57L23.34 396.54M24.57 393.37L23.47 393.31M24.79 390.17L23.7 390.08M25.12 386.99L24.02 386.86M25.53 383.81L24.44 383.65M26.04 380.65L23.97 380.28M26.64 377.5L25.57 377.28M27.34 374.37L26.27 374.12M28.13 371.27L27.07 370.98M29.01 368.18L27.96 367.87M29.98 365.13L28.94 364.78M31.04 362.11L30.01 361.73M32.19 359.12L31.17 358.71M33.43 356.16L32.42 355.72M34.76 353.25L33.76 352.78M36.17 350.37L34.3 349.42M37.67 347.54L36.7 347.01M39.25 344.75L38.3 344.19M40.91 342.01L39.98 341.42M42.65 339.32L41.74 338.71M44.48 336.68L43.58 336.05M46.37 334.1L45.5 333.44M48.35 331.58L47.49 330.89M50.4 329.12L49.56 328.4M52.52 326.71L51.71 325.97M54.71 324.38L53.2 322.92M56.97 322.11L56.2 321.32M59.3 319.9L58.55 319.09M61.69 317.77L60.97 316.94M64.14 315.71L63.45 314.85M66.65 313.72L65.98 312.85M69.22 311.81L68.58 310.91M71.85 309.97L71.23 309.06M74.53 308.21L73.94 307.28M77.26 306.54L76.7 305.59M80.04 304.94L79.02 303.1M82.87 303.43L82.36 302.45M85.73 302L85.26 301.01M88.64 300.66L88.2 299.65M91.59 299.41L91.18 298.39M94.58 298.24L94.19 297.21M97.6 297.16L97.24 296.12M100.64 296.17L100.32 295.12M103.72 295.28L103.43 294.22M106.82 294.47L106.56 293.4M109.95 293.76L109.51 291.71M113.09 293.14L112.89 292.06M116.25 292.61L116.09 291.53M119.43 292.18L119.29 291.09M122.61 291.84L122.51 290.75M125.81 291.6L125.74 290.5M129.01 291.45L128.97 290.35M132.21 291.4L132.21 290.3M135.42 291.44L135.45 290.34M138.62 291.58L138.68 290.48M141.81 291.81L142 289.72M145 292.14L145.13 291.05M148.18 292.56L148.34 291.47M151.34 293.07L151.53 291.99M154.49 293.68L154.71 292.61M157.61 294.38L157.87 293.31M160.72 295.18L161 294.12M163.8 296.06L164.12 295.01M166.85 297.04L167.2 296M169.87 298.11L170.25 297.08M172.86 299.26L173.64 297.32M175.81 300.51L176.25 299.5M178.72 301.84L179.2 300.85M181.6 303.26L182.1 302.28M184.43 304.76L184.96 303.79M187.21 306.34L187.77 305.4M189.95 308.01L190.54 307.08" fill="none" stroke="#444" stroke-width="0.55"/>
<text class="t" transform="translate(26.25 446.66) rotate(66)" y="2.41">0</text>
<text class="t" transform="translate(17.07 413.56) rotate(83)" y="2.41">1000</text>
<text class="t" transform="translate(17.97 379.22) rotate(-80)" y="2.41">2000</text>
<text class="t" transform="translate(28.87 346.65) rotate(-63)" y="2.41">3000</text>
<text class="t" transform="translate(48.81 318.68) rotate(-46)" y="2.41">4000</text>
<text class="t" transform="translate(76.07 297.77) rotate(-29)" y="2.41">5000</text>
<text class="t" transform="translate(108.24 285.74) rotate(-12)" y="2.41">6000</text>
<text class="t" transform="translate(142.53 283.64) rotate(5)" y="2.41">7000</text>
<text class="t" transform="translate(175.93 291.66) rotate(22)" y="2.41">8000</text>
<path d="M195.42 311.69A108 108 0 0 1 203.68 318.26M195.42 311.69L196.65 309.99M198.07 313.66L198.74 312.79M200.66 315.71L201.35 314.85M203.18 317.83L203.9 317" fill="none" stroke="#444" stroke-width="0.55"/>
<text class="t" transform="translate(200.21 305.04) rotate(35.7)" y="2.41">0</text>
<path d="M208.5 322.77A108 108 0 0 1 164.61 502.49M208.5 322.77L209.98 321.28M210.74 325.06L211.54 324.3M212.91 327.41L213.73 326.68M215.01 329.83L215.85 329.13M217.04 332.32L217.9 331.63M218.99 334.86L219.87 334.2M220.87 337.45L221.77 336.82M222.67 340.11L223.59 339.5M224.39 342.81L225.32 342.23M226.02 345.56L226.98 345.01M227.58 348.36L229.43 347.37M229.05 351.21L230.04 350.72M230.44 354.1L231.44 353.64M231.74 357.03L232.75 356.6M232.95 359.99L233.98 359.59M234.08 362.99L235.11 362.62M235.11 366.03L236.16 365.69M236.06 369.09L237.11 368.78M236.91 372.18L237.98 371.9M237.67 375.29L238.75 375.04M238.34 378.42L240.4 378.01M238.92 381.57L240 381.39M239.4 384.74L240.49 384.59M239.79 387.92L240.88 387.81M240.08 391.11L241.18 391.03M240.28 394.31L241.38 394.26M240.38 397.52L241.48 397.5M240.39 400.72L241.49 400.73M240.31 403.92L241.4 403.97M240.12 407.12L241.22 407.2M239.85 410.31L241.94 410.53M239.48 413.5L240.57 413.64M239.01 416.67L240.1 416.84M238.45 419.82L239.53 420.03M237.8 422.96L238.87 423.2M237.05 426.08L238.12 426.35M236.22 429.17L237.27 429.47M235.29 432.24L236.34 432.57M234.27 435.27L235.31 435.64M233.16 438.28L234.19 438.68M231.96 441.25L233.9 442.07M230.68 444.19L231.68 444.64M229.3 447.08L230.29 447.57M227.85 449.94L228.82 450.45M226.31 452.75L227.26 453.29M224.68 455.51L225.62 456.08M222.98 458.22L223.9 458.82M221.19 460.88L222.1 461.51M219.33 463.49L220.21 464.14M217.39 466.04L218.25 466.72M215.37 468.53L216.99 469.88M213.29 470.96L214.11 471.69M211.13 473.33L211.93 474.08M208.9 475.63L209.68 476.41M206.61 477.87L207.36 478.67M204.24 480.04L204.98 480.86M201.82 482.13L202.53 482.98M199.34 484.16L200.02 485.02M196.79 486.1L197.45 486.99M194.19 487.98L194.82 488.88M191.54 489.77L192.69 491.53M188.83 491.49L189.4 492.42M186.07 493.12L186.62 494.07M183.27 494.67L183.79 495.64M180.42 496.14L180.91 497.12M177.53 497.52L177.99 498.52M174.6 498.81L175.03 499.83M171.63 500.02L172.03 501.05M168.63 501.14L169 502.18M165.59 502.17L165.93 503.22" fill="none" stroke="#444" stroke-width="0.55"/>
<text class="t" transform="translate(214.28 316.95) rotate(44.8)" y="2.41">0</text>
<text class="t" transform="translate(234.81 344.49) rotate(61.8)" y="2.41">1000</text>
<text class="t" transform="translate(246.39 376.83) rotate(78.8)" y="2.41">2000</text>
<text class="t" transform="translate(248.01 411.14) rotate(-84.2)" y="2.41">3000</text>
<text class="t" transform="translate(239.52 444.43) rotate(-67.2)" y="2.41">4000</text>
<text class="t" transform="translate(221.67 473.78) rotate(-50.2)" y="2.41">5000</text>
<text class="t" transform="translate(196.03 496.63) rotate(-33.2)" y="2.41">6000</text>
<path d="M157.8 504.37A108 108 0 0 1 157.25 504.5M157.8 504.37L158.29 506.41" fill="none" stroke="#444" stroke-width="0.55"/>
<text class="t" transform="translate(159.72 512.34) rotate(-13.6)" y="2.41">0</text>
<path d="M150.6 505.86A108 108 0 0 1 55.11 474.83M150.6 505.86L150.95 507.93M147.43 506.35L147.58 507.44M144.25 506.75L144.37 507.84M141.06 507.05L141.15 508.15M137.86 507.26L137.92 508.36M134.66 507.38L134.68 508.48M131.46 507.4L131.45 508.5M128.25 507.32L128.21 508.42M125.05 507.15L124.98 508.25M121.86 506.88L121.75 507.98M118.68 506.52L118.41 508.61M115.51 506.07L115.33 507.16M112.35 505.52L112.14 506.6M109.21 504.88L108.97 505.95M106.09 504.15L105.82 505.21M102.99 503.32L102.69 504.38M99.92 502.4L99.59 503.45M96.88 501.39L96.52 502.43M93.87 500.29L93.48 501.32M90.9 499.11L90.47 500.12M87.96 497.83L87.09 499.75M85.06 496.47L84.57 497.46M82.2 495.02L81.69 496M79.38 493.49L78.84 494.45M76.61 491.88L76.05 492.82M73.9 490.18L73.3 491.11M71.23 488.41L70.61 489.31M68.61 486.55L67.96 487.44M66.06 484.62L65.38 485.49M63.56 482.62L62.86 483.46M61.12 480.54L59.73 482.11M58.74 478.39L57.99 479.19M56.43 476.17L55.66 476.95" fill="none" stroke="#444" stroke-width="0.55"/>
<text class="t" transform="translate(151.98 513.94) rotate(-9.7)" y="2.41">0</text>
<text class="t" transform="translate(117.64 514.66) rotate(7.3)" y="2.41">1000</text>
<text class="t" transform="translate(84.58 505.31) rotate(24.3)" y="2.41">2000</text>
<text class="t" transform="translate(55.71 486.7) rotate(41.3)" y="2.41">3000</text>
<path d="M50.03 469.25A108 108 0 0 1 36.39 448.85M50.03 469.25L48.43 470.61M48 466.78L47.14 467.47M46.03 464.25L45.15 464.91M44.15 461.65L43.25 462.29M42.34 459.01L41.42 459.62M40.61 456.31L39.68 456.89M38.96 453.56L38.01 454.11M37.4 450.77L36.43 451.29" fill="none" stroke="#444" stroke-width="0.55"/>
<text class="t" transform="translate(43.78 474.56) rotate(49.7)" y="2.41">0</text>
<text class="s" transform="translate(48.74 302.13) rotate(-40.7)" y="3.74">Forestry</text>
<text class="s" transform="translate(212.27 298.99) rotate(38.5)" y="3.74">Water</text>
<text class="s" transform="translate(257.04 429.84) rotate(-76.27)" y="3.74">Cultivated</text>
<text class="s" transform="translate(163.06 524.7) rotate(-13.75)" y="3.74">Unused</text>
<text class="s" transform="translate(92.75 521.42) rotate(18)" y="3.74">Grass</text>
<text class="s" transform="translate(24.84 471.34) rotate(56.23)" y="3.74">Construction</text>
<text class="c" x="143" y="543.5">c.2010 - 2020</text>
</g>
<g>
<path d="M430.74 499.32A102.15 102.15 0 0 1 385.65 498.73Q409.5 399.4 378.24 491.22L357.89 485.64L343.35 470.34Q409.5 399.4 430.74 499.32 Z" fill="#CDEBCD" fill-opacity="1" stroke="#ABD5AB" stroke-width="0.35" stroke-opacity="1" stroke-linejoin="round"/><path d="M430.72 499.22A102.05 102.05 0 0 1 385.68 498.63" fill="none" stroke="#ABD5AB" stroke-width="0.7"/>
<path d="M481.6 327.04A102.15 102.15 0 0 1 510.95 411.32Q409.5 399.4 504.31 419.9L489.23 460.58L453.84 485.67Q409.5 399.4 481.6 327.04 Z" fill="#FFFF64" fill-opacity="1" stroke="#FFFF64" stroke-width="0.35" stroke-opacity="1" stroke-linejoin="round"/><path d="M481.53 327.11A102.05 102.05 0 0 1 510.85 411.31" fill="none" stroke="#D6D640" stroke-width="0.7"/>
<path d="M316.85 442.41A102.15 102.15 0 0 1 334.79 329.73Q409.5 399.4 343.84 328L398.56 299.5L458.15 315.48Q409.5 399.4 316.85 442.41 Z" fill="#8ED28E" fill-opacity="1" stroke="#74C074" stroke-width="0.35" stroke-opacity="1" stroke-linejoin="round"/><path d="M316.94 442.37A102.05 102.05 0 0 1 334.87 329.8" fill="none" stroke="#74C074" stroke-width="0.7"/>
<path d="M330.34 463.96A102.15 102.15 0 0 1 326.23 458.57Q409.5 399.4 328.03 451.3L323.13 450.99L325.18 446.53Q409.5 399.4 330.34 463.96 Z" fill="#FA322D" fill-opacity="0.8"/>
<path d="M469.25 316.55A102.15 102.15 0 0 1 472.95 319.35L469.82 323.43A97 97 0 0 1 470.44 323.93Q409.5 399.4 469.25 316.55 Z" fill="#4682E7" fill-opacity="0.84"/>
<path d="M471.93 318.55A102.15 102.15 0 0 1 472.95 319.35L469.52 324.48L473.13 323.16L472.48 326.95Q409.5 399.4 471.93 318.55 Z" fill="#4682E7" fill-opacity="0.84"/>
<path d="M337.02 327.42A102.15 102.15 0 0 1 339.96 324.57Q409.5 399.4 447.79 489.61L447.09 493.14L444.14 491.07Q409.5 399.4 337.02 327.42 Z" fill="#43A843" fill-opacity="0.85" stroke="#43A843" stroke-width="0.45" stroke-opacity="0.85" stroke-linejoin="round"/>
<path d="M334.79 329.73A102.15 102.15 0 0 1 337.02 327.42Q409.5 399.4 340.81 469.3L337.59 470.32L338.65 467.11Q409.5 399.4 334.79 329.73 Z" fill="#5CB85C" fill-opacity="0.85" stroke="#5CB85C" stroke-width="0.45" stroke-opacity="0.85" stroke-linejoin="round"/>
<path d="M510.95 411.32A102.15 102.15 0 0 1 510.66 413.62Q409.5 399.4 460.27 315.57L462.8 313.61L462.16 316.75Q409.5 399.4 510.95 411.32 Z" fill="#FFF61E" fill-opacity="0.72" stroke="#FFF61E" stroke-width="0.45" stroke-opacity="0.72" stroke-linejoin="round"/>
<path d="M510.66 413.62A102.15 102.15 0 0 1 509.84 418.54Q409.5 399.4 329.57 456.1L325.72 455.81L326.89 452.13Q409.5 399.4 510.66 413.62 Z" fill="#FFF61E" fill-opacity="0.72" stroke="#FFF61E" stroke-width="0.45" stroke-opacity="0.72" stroke-linejoin="round"/>
<path d="M509.84 418.54A102.15 102.15 0 0 1 509.38 420.81Q409.5 399.4 342.54 470.96L339.66 472.36L340.93 469.42Q409.5 399.4 509.84 418.54 Z" fill="#FFF61E" fill-opacity="0.72" stroke="#FFF61E" stroke-width="0.45" stroke-opacity="0.72" stroke-linejoin="round"/>
<path d="M385.65 498.73A102.15 102.15 0 0 1 379.12 496.93Q409.5 399.4 453.99 486.72L452.26 490.9L447.95 489.54Q409.5 399.4 385.65 498.73 Z" fill="#C2E2C4" fill-opacity="0.85" stroke="#C2E2C4" stroke-width="0.45" stroke-opacity="0.85" stroke-linejoin="round"/>
<path d="M379.12 496.93A102.15 102.15 0 0 1 377.76 496.5Q409.5 399.4 459.09 314.87L461.22 312.65L460.27 315.57Q409.5 399.4 379.12 496.93 Z" fill="#C2E2C4" fill-opacity="0.85" stroke="#C2E2C4" stroke-width="0.45" stroke-opacity="0.85" stroke-linejoin="round"/>
<path d="M476.58 322.36A102.15 102.15 0 0 1 476.99 322.72Q409.5 399.4 444.14 491.07L444.87 494L443.5 491.31Q409.5 399.4 476.58 322.36 Z" fill="#5B8FE8" fill-opacity="0.85" stroke="#5B8FE8" stroke-width="0.8" stroke-opacity="0.85" stroke-linejoin="round"/>
<path d="M325.34 457.03Q409.5 399.4 443.88 493.09" fill="none" stroke="#EE4B4B" stroke-width="0.82" stroke-opacity="0.9"/>
<path d="M324.74 456.14Q409.5 399.4 443.47 493.24" fill="none" stroke="#EE4B4B" stroke-width="0.72" stroke-opacity="0.9"/>
<path d="M324.25 455.4Q409.5 399.4 436.34 495.52" fill="none" stroke="#E9967A" stroke-width="0.67" stroke-opacity="0.9"/>
<path d="M320.03 448.38Q409.5 399.4 474.97 324.08" fill="none" stroke="#EC7B82" stroke-width="0.67" stroke-opacity="0.9"/>
<path d="M320.2 448.69Q409.5 399.4 480.44 329.2" fill="none" stroke="#EC7B82" stroke-width="0.67" stroke-opacity="0.9"/>
<path d="M476.42 322.42Q409.5 399.4 322.04 447.48" fill="none" stroke="#8CAEF0" stroke-width="0.67" stroke-opacity="0.9"/>
<path d="M476.55 322.54Q409.5 399.4 318.76 440.94" fill="none" stroke="#8CAEF0" stroke-width="0.67" stroke-opacity="0.9"/>
<path d="M476.75 322.71Q409.5 399.4 338.93 469.97" fill="none" stroke="#B9CDF5" stroke-width="0.52" stroke-opacity="0.8"/>
<path d="M377.64 496.3Q409.5 399.4 474.97 324.08" fill="none" stroke="#BFD9C2" stroke-width="0.5700000000000001" stroke-opacity="0.8"/>
<path d="M376.97 496.07Q409.5 399.4 480.07 328.83" fill="none" stroke="#C9DCCB" stroke-width="0.5700000000000001" stroke-opacity="0.8"/>
<path d="M436.93 497.64Q409.5 399.4 475.24 324.31" fill="none" stroke="#CFCFCF" stroke-width="0.52" stroke-opacity="0.8"/>
<path d="M340.98 323.84Q409.5 399.4 474.18 323.4" fill="none" stroke="#7CC47C" stroke-width="0.52" stroke-opacity="0.9"/>
<path d="M341.25 323.6Q409.5 399.4 322.04 447.48" fill="none" stroke="#7CC47C" stroke-width="0.52" stroke-opacity="0.9"/>
<path d="M509.31 420.43Q409.5 399.4 474.71 323.85" fill="none" stroke="#F1EE55" stroke-width="0.52" stroke-opacity="0.9"/>
<path d="M509.23 420.78Q409.5 399.4 436.34 495.52" fill="none" stroke="#F1EE55" stroke-width="0.52" stroke-opacity="0.9"/>
<path d="M376.63 495.96Q409.5 399.4 321.96 447.33" fill="none" stroke="#B9DDBB" stroke-width="0.52" stroke-opacity="0.9"/>
<path d="M311.54 444.87A108 108 0 0 1 467.85 308.52L464.77 313.31A102.3 102.3 0 0 0 316.71 442.47Z" fill="#A3DFA3"/>
<path d="M472.68 311.81A108 108 0 0 1 480.92 318.39L477.15 322.66A102.3 102.3 0 0 0 469.34 316.43Z" fill="#86A8F0"/>
<path d="M485.73 322.9A108 108 0 0 1 445.37 501.27L443.48 495.89A102.3 102.3 0 0 0 481.71 326.94Z" fill="#FFFF7C"/>
<path d="M438.72 503.37A108 108 0 0 1 438.18 503.52L436.67 498.03A102.3 102.3 0 0 0 437.18 497.88Z" fill="#C8C8C8"/>
<path d="M431.95 505.04A108 108 0 0 1 331.16 473.74L335.29 469.82A102.3 102.3 0 0 0 430.77 499.46Z" fill="#D3F0D3"/>
<path d="M325.81 467.66A108 108 0 0 1 314.59 450.93L319.6 448.21A102.3 102.3 0 0 0 330.22 464.06Z" fill="#F4696E"/>
<path d="M311.54 444.87A108 108 0 0 1 467.85 308.52M311.54 444.87L309.63 445.76M310.23 441.95L309.22 442.38M309.01 438.98L307.99 439.39M307.88 435.98L306.85 436.36M306.84 432.95L305.8 433.29M305.89 429.89L304.84 430.2M305.04 426.81L303.97 427.08M304.27 423.69L303.2 423.94M303.59 420.56L302.51 420.78M303.01 417.41L301.93 417.59M302.52 414.24L300.44 414.53M302.13 411.06L301.04 411.18M301.83 407.87L300.74 407.96M301.63 404.68L300.53 404.73M301.52 401.47L300.42 401.49M301.51 398.27L300.41 398.26M301.59 395.07L300.49 395.02M301.76 391.87L300.67 391.79M302.03 388.67L300.94 388.56M302.4 385.49L301.31 385.35M302.86 382.32L300.79 381.99M303.41 379.16L302.33 378.96M304.06 376.02L302.99 375.79M304.8 372.91L303.73 372.64M305.63 369.81L304.57 369.51M306.56 366.74L305.51 366.41M307.57 363.7L306.53 363.34M308.67 360.7L307.65 360.3M309.87 357.72L308.85 357.3M311.15 354.78L310.14 354.33M312.51 351.89L310.63 350.96M313.97 349.03L312.99 348.52M315.5 346.22L314.54 345.68M317.12 343.45L316.18 342.88M318.82 340.74L317.9 340.14M320.6 338.07L319.7 337.45M322.46 335.46L321.57 334.81M324.39 332.91L323.53 332.23M326.4 330.41L325.56 329.71M328.49 327.98L327.66 327.25M330.64 325.61L329.11 324.17M332.87 323.3L332.09 322.52M335.16 321.06L334.4 320.26M337.51 318.89L336.78 318.07M339.93 316.79L339.23 315.95M342.42 314.76L341.73 313.9M344.96 312.81L344.3 311.93M347.55 310.93L346.92 310.03M350.21 309.13L349.6 308.21M352.91 307.41L352.33 306.48M355.66 305.78L354.62 303.95M358.46 304.22L357.94 303.25M361.31 302.75L360.82 301.76M364.2 301.36L363.74 300.36M367.13 300.06L366.7 299.05M370.09 298.85L369.69 297.82M373.09 297.72L372.72 296.69M376.13 296.69L375.79 295.64M379.19 295.74L378.88 294.69M382.28 294.89L382 293.82M385.39 294.13L384.92 292.08M388.52 293.46L388.31 292.38M391.67 292.88L391.49 291.8M394.84 292.4L394.69 291.31M398.02 292.01L397.91 290.92M401.21 291.72L401.13 290.62M404.41 291.52L404.36 290.42M407.62 291.42L407.6 290.32M410.82 291.41L410.83 290.31M414.02 291.49L414.07 290.4M417.22 291.68L417.37 289.58M420.41 291.95L420.53 290.86M423.6 292.32L423.74 291.23M426.77 292.79L426.94 291.7M429.92 293.35L430.13 292.27M433.06 294L433.3 292.93M436.18 294.75L436.45 293.68M439.27 295.58L439.57 294.53M442.34 296.51L442.67 295.46M445.37 297.53L445.74 296.49M448.38 298.64L449.14 296.68M451.35 299.84L451.78 298.82M454.29 301.12L454.74 300.12M457.18 302.5L457.67 301.51M460.04 303.95L460.55 302.98M462.85 305.49L463.39 304.54M465.61 307.12L466.18 306.18" fill="none" stroke="#444" stroke-width="0.55"/>
<text class="t" transform="translate(304.1 448.32) rotate(65.1)" y="2.41">0</text>
<text class="t" transform="translate(294.4 415.37) rotate(82.1)" y="2.41">1000</text>
<text class="t" transform="translate(294.76 381.02) rotate(-80.9)" y="2.41">2000</text>
<text class="t" transform="translate(305.15 348.28) rotate(-63.9)" y="2.41">3000</text>
<text class="t" transform="translate(324.66 320) rotate(-46.9)" y="2.41">4000</text>
<text class="t" transform="translate(351.58 298.67) rotate(-29.9)" y="2.41">5000</text>
<text class="t" transform="translate(383.56 286.13) rotate(-12.9)" y="2.41">6000</text>
<text class="t" transform="translate(417.81 283.5) rotate(4.1)" y="2.41">7000</text>
<text class="t" transform="translate(451.33 290.99) rotate(21.1)" y="2.41">8000</text>
<path d="M472.68 311.81A108 108 0 0 1 480.92 318.39M472.68 311.81L473.9 310.1M475.32 313.78L475.99 312.9M477.91 315.83L478.6 314.97M480.43 317.95L481.15 317.12" fill="none" stroke="#444" stroke-width="0.55"/>
<text class="t" transform="translate(477.47 305.15) rotate(35.8)" y="2.41">0</text>
<path d="M485.73 322.9A108 108 0 0 1 445.37 501.27M485.73 322.9L487.22 321.41M487.97 325.19L488.77 324.44M490.14 327.56L490.96 326.82M492.23 329.98L493.08 329.27M494.26 332.46L495.12 331.78M496.2 335.01L497.09 334.35M498.08 337.61L498.98 336.98M499.87 340.26L500.79 339.66M501.59 342.97L502.52 342.4M503.22 345.73L504.17 345.18M504.77 348.53L506.62 347.54M506.24 351.38L507.22 350.89M507.62 354.27L508.62 353.81M508.91 357.2L509.93 356.77M510.12 360.17L511.15 359.77M511.24 363.17L512.28 362.8M512.27 366.21L513.32 365.87M513.21 369.27L514.27 368.96M514.06 372.36L515.12 372.08M514.82 375.47L515.89 375.23M515.48 378.61L517.54 378.2M516.05 381.76L517.14 381.58M516.53 384.93L517.62 384.78M516.91 388.11L518 388M517.2 391.3L518.29 391.22M517.39 394.5L518.49 394.45M517.49 397.7L518.59 397.69M517.49 400.91L518.59 400.92M517.4 404.11L518.5 404.16M517.21 407.31L518.31 407.39M516.93 410.5L519.02 410.72M516.55 413.68L517.64 413.83M516.08 416.85L517.17 417.03M515.52 420.01L516.6 420.22M514.86 423.14L515.93 423.39M514.11 426.26L515.17 426.53M513.26 429.35L514.32 429.66M512.33 432.42L513.38 432.75M511.31 435.45L512.34 435.82M510.19 438.46L511.22 438.85M508.99 441.43L510.92 442.24M507.7 444.36L508.7 444.82M506.32 447.25L507.31 447.74M504.86 450.1L505.83 450.62M503.31 452.91L504.27 453.45M501.68 455.67L502.62 456.24M499.97 458.38L500.9 458.98M498.18 461.04L499.09 461.66M496.32 463.64L497.2 464.3M494.37 466.19L495.24 466.87M492.35 468.68L493.96 470.02M490.26 471.1L491.08 471.83M488.1 473.47L488.9 474.22M485.87 475.77L486.65 476.55M483.57 478L484.32 478.8M481.2 480.16L481.93 480.98M478.78 482.25L479.48 483.1M476.29 484.27L476.97 485.14M473.74 486.22L474.4 487.1M471.14 488.08L471.76 488.99M468.48 489.87L469.63 491.63M465.77 491.58L466.34 492.52M463.01 493.21L463.55 494.17M460.2 494.76L460.72 495.73M457.35 496.22L457.84 497.21M454.46 497.6L454.92 498.6M451.53 498.89L451.95 499.9M448.56 500.09L448.95 501.12M445.55 501.21L445.92 502.24" fill="none" stroke="#444" stroke-width="0.55"/>
<text class="t" transform="translate(491.52 317.09) rotate(44.9)" y="2.41">0</text>
<text class="t" transform="translate(512 344.67) rotate(61.9)" y="2.41">1000</text>
<text class="t" transform="translate(523.53 377.03) rotate(78.9)" y="2.41">2000</text>
<text class="t" transform="translate(525.08 411.34) rotate(-84.1)" y="2.41">3000</text>
<text class="t" transform="translate(516.54 444.62) rotate(-67.1)" y="2.41">4000</text>
<text class="t" transform="translate(498.64 473.94) rotate(-50.1)" y="2.41">5000</text>
<text class="t" transform="translate(472.96 496.74) rotate(-33.1)" y="2.41">6000</text>
<path d="M438.72 503.37A108 108 0 0 1 438.18 503.52M438.72 503.37L439.29 505.39" fill="none" stroke="#444" stroke-width="0.55"/>
<text class="t" transform="translate(440.94 511.26) rotate(-15.7)" y="2.41">0</text>
<path d="M431.95 505.04A108 108 0 0 1 331.16 473.74M431.95 505.04L432.39 507.09M428.81 505.66L429.01 506.74M425.65 506.19L425.81 507.27M422.47 506.62L422.61 507.71M419.29 506.96L419.39 508.05M416.09 507.2L416.16 508.3M412.89 507.35L412.93 508.45M409.69 507.4L409.69 508.5M406.48 507.36L406.45 508.46M403.28 507.22L403.22 508.32M400.09 506.99L399.9 509.08M396.9 506.66L396.77 507.75M393.72 506.24L393.56 507.33M390.56 505.73L390.37 506.81M387.41 505.12L387.19 506.19M384.29 504.42L384.03 505.49M381.18 503.62L380.9 504.68M378.1 502.74L377.78 503.79M375.05 501.76L374.7 502.8M372.03 500.69L371.65 501.72M369.04 499.54L368.26 501.48M366.09 498.29L365.65 499.3M363.18 496.96L362.7 497.95M360.3 495.54L359.8 496.52M357.47 494.04L356.94 495.01M354.69 492.46L354.13 493.4M351.95 490.79L351.36 491.72M349.26 489.04L348.65 489.95M346.63 487.21L345.99 488.11M344.05 485.31L343.39 486.19M341.53 483.33L340.21 484.96M339.07 481.28L338.36 482.11M336.68 479.15L335.93 479.97M334.34 476.96L333.58 477.75M332.07 474.69L331.29 475.46" fill="none" stroke="#444" stroke-width="0.55"/>
<text class="t" transform="translate(433.66 513.06) rotate(-12)" y="2.41">0</text>
<text class="t" transform="translate(399.37 515.16) rotate(5)" y="2.41">1000</text>
<text class="t" transform="translate(365.97 507.14) rotate(22)" y="2.41">2000</text>
<text class="t" transform="translate(336.37 489.7) rotate(39)" y="2.41">3000</text>
<path d="M325.81 467.66A108 108 0 0 1 314.59 450.93M325.81 467.66L324.18 468.99M323.82 465.15L322.95 465.82M321.91 462.58L321.01 463.22M320.07 459.95L319.16 460.57M318.31 457.27L317.38 457.86M316.64 454.54L315.69 455.1M315.04 451.76L314.08 452.29" fill="none" stroke="#444" stroke-width="0.55"/>
<text class="t" transform="translate(319.45 472.84) rotate(50.8)" y="2.41">0</text>
<text class="s" transform="translate(325.16 302.72) rotate(-41.1)" y="3.74">Forestry</text>
<text class="s" transform="translate(489.54 299.13) rotate(38.6)" y="3.74">Water</text>
<text class="s" transform="translate(534.64 427.72) rotate(-77.25)" y="3.74">Cultivated</text>
<text class="s" transform="translate(444.73 523.5) rotate(-15.85)" y="3.74">Unused</text>
<text class="s" transform="translate(371.45 521.93) rotate(17.25)" y="3.74">Grass</text>
<text class="s" transform="translate(302.03 471.48) rotate(56.15)" y="3.74">Construction</text>
<text class="c" x="419.8" y="543.5">d.1990 - 2020</text>
</g>
</svg>
</body>
</html>
